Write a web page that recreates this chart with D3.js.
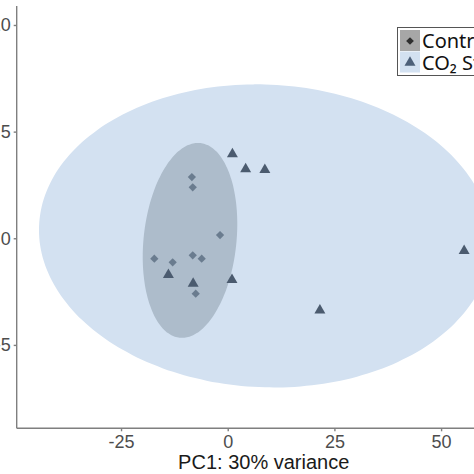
<!DOCTYPE html>
<html>
<head>
<meta charset="utf-8">
<script src="https://cdn.jsdelivr.net/npm/d3@7"></script>
<style>
    html, body { margin: 0; padding: 0; background: #fff; }
    svg { display: block; }
</style>
</head>
<body>
<div id="chart"></div>
<script>
// Groups
const groups = ['Control', 'CO₂ Stress'];

// PC scores
const controlPC1 = [-8.4, -8.2, -1.8, -17.2, -12.9, -8.2, -6.1, -7.5];
const controlPC2 = [2.87, 2.39, 0.15, -0.96, -1.13, -0.80, -0.96, -2.60];
const co2PC1 = [1.1, 4.2, 8.7, -13.9, -8.1, 1.0, 21.6, 55.4];
const co2PC2 = [3.95, 3.24, 3.21, -1.71, -2.13, -1.95, -3.38, -0.59];

// Confidence ellipses: centre and conjugate half-axes, in PC units
// [cx, cy, ax, bx, ay, by]  ->  x = cx + ax cos t + bx sin t, y = cy + ay cos t + by sin t
const controlEllipse = [-8.84, -0.10, 10.92, 1.87, 0, 4.57];
const co2Ellipse = [8.74, 0.11, 52.97, 0, -0.28, 7.10];

// Axis ticks
const xTicks = [-25, 0, 25, 50];
const yTicks = [-5, 0, 5, 10];
const xTitle = 'PC1: 30% variance';

const width = 474;
const height = 474;

const x = d3.scaleLinear().domain([-49.45, 62]).range([16.7, 492.3]);
const y = d3.scaleLinear().domain([-8.91, 10.89]).range([428.3, 6]);

const svg = d3.select('#chart').append('svg')
    .attr('width', width)
    .attr('height', height);

function ellipsePoints(e) {
    const [cx, cy, ax, bx, ay, by] = e;
    return d3.range(0, 361, 3).map(deg => {
        const t = deg * Math.PI / 180;
        return [cx + ax * Math.cos(t) + bx * Math.sin(t), cy + ay * Math.cos(t) + by * Math.sin(t)];
    });
}

const ellipseLine = d3.line()
    .x(d => x(d[0]))
    .y(d => y(d[1]))
    .curve(d3.curveCardinalClosed);

// Ellipses
svg.append('path')
    .attr('d', ellipseLine(ellipsePoints(co2Ellipse)))
    .style('fill', '#d3e1f1');
svg.append('path')
    .attr('d', ellipseLine(ellipsePoints(controlEllipse)))
    .style('fill', '#adbccb');

// Points
const control = controlPC1.map((v, i) => ({pc1: v, pc2: controlPC2[i]}));
const co2 = co2PC1.map((v, i) => ({pc1: v, pc2: co2PC2[i]}));

svg.append('g').selectAll('path')
    .data(control)
    .enter()
    .append('path')
    .attr('d', d3.symbol(d3.symbolSquare, 34)())
    .attr('transform', d => `translate(${x(d.pc1)},${y(d.pc2)}) rotate(45)`)
    .style('fill', '#6a7c8f');

svg.append('g').selectAll('path')
    .data(co2)
    .enter()
    .append('path')
    .attr('d', d3.symbol(d3.symbolTriangle, 52)())
    .attr('transform', d => `translate(${x(d.pc1)},${y(d.pc2)})`)
    .style('fill', '#4b5b6f');

// Axes
const axisColor = '#7f7f7f';

const xAxis = svg.append('g')
    .attr('transform', `translate(0, ${y.range()[0]})`)
    .call(d3.axisBottom(x).tickValues(xTicks).tickSize(3).tickPadding(4).tickFormat(d => String(d)));
xAxis.select('.domain').attr('d', `M${x.range()[0]},0H${width + 10}`);

const yAxis = svg.append('g')
    .attr('transform', `translate(${x.range()[0]}, 0)`)
    .call(d3.axisLeft(y).tickValues(yTicks).tickSize(3).tickPadding(3).tickFormat(d => String(d)));
yAxis.select('.domain').attr('d', `M0,${y.range()[0]}V${y.range()[1]}`);

svg.selectAll('.domain, .tick line')
    .style('stroke', axisColor)
    .style('stroke-width', '1.4px');
svg.selectAll('.tick text')
    .style('font-family', '"Liberation Sans", Arial, sans-serif')
    .style('font-size', '18px')
    .style('fill', '#4d4d4d');

svg.append('text')
    .attr('x', x(0) + 36)
    .attr('y', 469)
    .attr('text-anchor', 'middle')
    .style('font-family', '"Liberation Sans", Arial, sans-serif')
    .style('font-size', '20px')
    .style('fill', '#1a1a1a')
    .text(xTitle);

// Legend
const legend = svg.append('g').attr('transform', 'translate(397, 27)');
legend.append('rect')
    .attr('x', 0.5).attr('y', 0.5)
    .attr('width', 120).attr('height', 48)
    .style('fill', '#fff')
    .style('stroke', '#555')
    .style('stroke-width', '1px');

const keyFills = ['#a7a7a7', '#d3e1f1'];
const keySymbols = [d3.symbol(d3.symbolSquare, 30)(), d3.symbol(d3.symbolTriangle, 52)()];
const keyMarks = ['#2f2f2f', '#4d6079'];

groups.forEach((g, i) => {
    const row = legend.append('g').attr('transform', `translate(3, ${3 + i * 21.5})`);
    row.append('rect')
        .attr('width', 20).attr('height', 21)
        .style('fill', keyFills[i]);
    row.append('path')
        .attr('d', keySymbols[i])
        .attr('transform', `translate(10, 11)${i === 0 ? ' rotate(45)' : ''}`)
        .style('fill', keyMarks[i]);
    row.append('text')
        .attr('x', 22)
        .attr('y', 18)
        .style('font-family', '"Noto Sans", "Open Sans", sans-serif')
        .style('font-size', '20px')
        .style('fill', '#111')
        .text(g);
});
</script>
</body>
</html>
